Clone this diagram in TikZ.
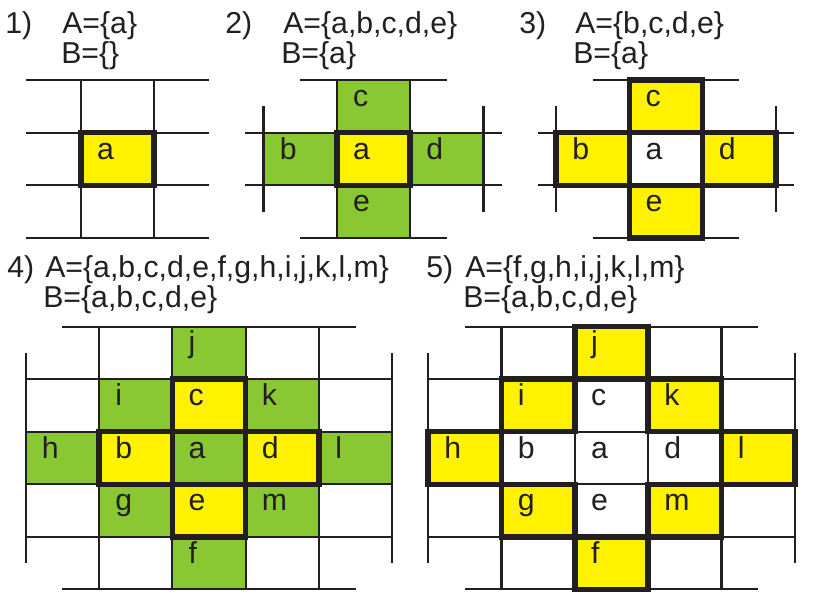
\documentclass[tikz,border=0pt]{standalone}
\usepackage{fontspec}
\setmainfont{Liberation Sans}
\usepackage{tikz}
\usetikzlibrary{positioning}

\definecolor{ink}{RGB}{35,31,32}
\definecolor{cgreen}{RGB}{137,200,50}
\definecolor{cyellow}{RGB}{255,242,0}

% one square of a grid: name, style, x, y, letter
\newcommand{\sqcell}[5]{
        \node at (#3,#4) [#2] (#1) {};
        \node at ([xshift=0.4cm]#1.west) [lbl] (#1t) {#5};
}

\begin{document}
\begin{tikzpicture}[x=0.025cm, y=-0.025cm,
        cell/.style={rectangle, inner sep=0pt, outer sep=0pt, minimum width=1.8325cm, minimum height=1.3125cm},
        grn/.style={cell, fill=cgreen},
        ylw/.style={cell, fill=cyellow, draw=ink, line width=3.9pt},
        wht/.style={cell},
        grid/.style={draw=ink, line width=1.5pt},
        lbl/.style={anchor=base west, inner sep=0pt, text=ink, font=\fontsize{21.5}{25}\selectfont},
        title/.style={lbl}]
        \useasboundingbox (0,0) rectangle (817,594);

        % titles
        \node at (5,33)    [title] (t1n) {1)};
        \node at (62,33)   [title] (t1a) {A=\{a\}};
        \node at (61,63)   [title] (t1b) {B=\{\}};
        \node at (225,33)  [title] (t2n) {2)};
        \node at (283,33)  [title] (t2a) {A=\{a,b,c,d,e\}};
        \node at (281,63)  [title] (t2b) {B=\{a\}};
        \node at (519,33)  [title] (t3n) {3)};
        \node at (575,33)  [title] (t3a) {A=\{b,c,d,e\}};
        \node at (573,63)  [title] (t3b) {B=\{a\}};
        \node at (7,277)   [title] (t4n) {4)};
        \node at (45,277)  [title] (t4a) {A=\{a,b,c,d,e,f,g,h,i,j,k,l,m\}};
        \node at (43,307)  [title] (t4b) {B=\{a,b,c,d,e\}};
        \node at (426,277) [title] (t5n) {5)};
        \node at (465,277) [title] (t5a) {A=\{f,g,h,i,j,k,l,m\}};
        \node at (463,307) [title] (t5b) {B=\{a,b,c,d,e\}};

        % 1)
        \begin{scope}[shift={(117.5,159)}, x=1.8325cm, y=1.3125cm]
            \foreach \y in {-1.5,-0.5,0.5,1.5} \draw[grid] (-1.25,\y) -- (1.25,\y);
            \foreach \x in {-0.5,0.5} \draw[grid] (\x,-1.5) -- (\x,1.5);
            \sqcell{p1a}{ylw}{0}{0}{a}
        \end{scope}

        % 2)
        \begin{scope}[shift={(373.5,159)}, x=1.8325cm, y=1.3125cm]
            \sqcell{p2b}{grn}{-1}{0}{b}
            \sqcell{p2c}{grn}{0}{1}{c}
            \sqcell{p2d}{grn}{1}{0}{d}
            \sqcell{p2e}{grn}{0}{-1}{e}
            \foreach \y in {-1.5,1.5} \draw[grid] (-1,\y) -- (1,\y);
            \foreach \y in {-0.5,0.5} \draw[grid] (-1.75,\y) -- (1.75,\y);
            \foreach \x in {-0.5,0.5} \draw[grid] (\x,-1.5) -- (\x,1.5);
            \foreach \x in {-1.5,1.5} \draw[grid] (\x,-1) -- (\x,1);
            \sqcell{p2a}{ylw}{0}{0}{a}
        \end{scope}

        % 3)
        \begin{scope}[shift={(666,159)}, x=1.8325cm, y=1.3125cm]
            \sqcell{p3a}{wht}{0}{0}{a}
            \foreach \y in {-1.5,1.5} \draw[grid] (-1,\y) -- (1,\y);
            \foreach \y in {-0.5,0.5} \draw[grid] (-1.75,\y) -- (1.75,\y);
            \foreach \x in {-1.5,1.5} \draw[grid] (\x,-1) -- (\x,1);
            \sqcell{p3b}{ylw}{-1}{0}{b}
            \sqcell{p3c}{ylw}{0}{1}{c}
            \sqcell{p3d}{ylw}{1}{0}{d}
            \sqcell{p3e}{ylw}{0}{-1}{e}
        \end{scope}

        % 4)
        \begin{scope}[shift={(209,458)}, x=1.8325cm, y=1.3125cm]
            \sqcell{p4j}{grn}{0}{2}{j}
            \sqcell{p4i}{grn}{-1}{1}{i}
            \sqcell{p4k}{grn}{1}{1}{k}
            \sqcell{p4h}{grn}{-2}{0}{h}
            \sqcell{p4a}{grn}{0}{0}{a}
            \sqcell{p4l}{grn}{2}{0}{l}
            \sqcell{p4g}{grn}{-1}{-1}{g}
            \sqcell{p4m}{grn}{1}{-1}{m}
            \sqcell{p4f}{grn}{0}{-2}{f}
            \foreach \y in {-1.5,-0.5,0.5,1.5} \draw[grid] (-2.5,\y) -- (2.5,\y);
            \foreach \y in {-2.5,2.5} \draw[grid] (-2,\y) -- (2,\y);
            \foreach \x in {-1.5,-0.5,0.5,1.5} \draw[grid] (\x,-2.5) -- (\x,2.5);
            \foreach \x in {-2.5,2.5} \draw[grid] (\x,-2) -- (\x,2);
            \sqcell{p4b}{ylw}{-1}{0}{b}
            \sqcell{p4c}{ylw}{0}{1}{c}
            \sqcell{p4d}{ylw}{1}{0}{d}
            \sqcell{p4e}{ylw}{0}{-1}{e}
        \end{scope}

        % 5)
        \begin{scope}[shift={(611.5,458)}, x=1.8325cm, y=1.3125cm]
            \sqcell{p5a}{wht}{0}{0}{a}
            \sqcell{p5b}{wht}{-1}{0}{b}
            \sqcell{p5c}{wht}{0}{1}{c}
            \sqcell{p5d}{wht}{1}{0}{d}
            \sqcell{p5e}{wht}{0}{-1}{e}
            \foreach \y in {-1.5,-0.5,0.5,1.5} \draw[grid] (-2.5,\y) -- (2.5,\y);
            \foreach \y in {-2.5,2.5} \draw[grid] (-2,\y) -- (2,\y);
            \foreach \x in {-1.5,-0.5,0.5,1.5} \draw[grid] (\x,-2.5) -- (\x,2.5);
            \foreach \x in {-2.5,2.5} \draw[grid] (\x,-2) -- (\x,2);
            \sqcell{p5j}{ylw}{0}{2}{j}
            \sqcell{p5i}{ylw}{-1}{1}{i}
            \sqcell{p5k}{ylw}{1}{1}{k}
            \sqcell{p5h}{ylw}{-2}{0}{h}
            \sqcell{p5l}{ylw}{2}{0}{l}
            \sqcell{p5g}{ylw}{-1}{-1}{g}
            \sqcell{p5m}{ylw}{1}{-1}{m}
            \sqcell{p5f}{ylw}{0}{-2}{f}
        \end{scope}
\end{tikzpicture}
\end{document}
